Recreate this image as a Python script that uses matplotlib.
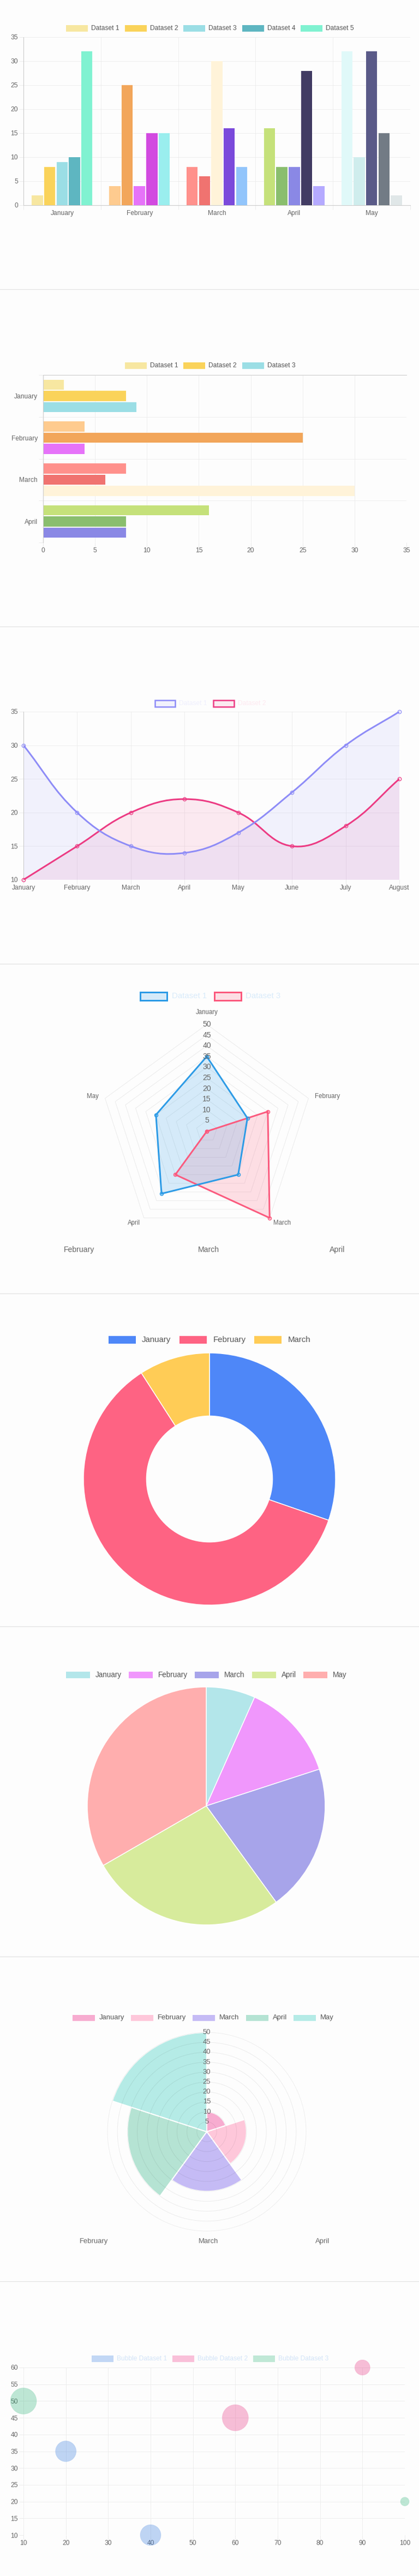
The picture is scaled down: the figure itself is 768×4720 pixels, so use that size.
import matplotlib
matplotlib.use("Agg")
import matplotlib.pyplot as plt
import numpy as np
from matplotlib.patches import Rectangle, PathPatch
from matplotlib.path import Path

W, H, DPI = 768, 4720, 72

plt.rcParams["font.family"] = ["Liberation Sans", "DejaVu Sans"]

GRID = "#ebebeb"
ZERO = "#c9c9c9"
TICK = "#666666"
LEG = "#555555"

# ---------------- data ----------------
months = ["January", "February", "March", "April", "May", "June", "July", "August"]

bar_labels = ["Dataset 1", "Dataset 2", "Dataset 3", "Dataset 4", "Dataset 5"]
bar_ds1 = [2, 4, 8, 16, 32]
bar_ds2 = [8, 25, 6, 8, 10]
bar_ds3 = [9, 4, 30, 8, 32]
bar_ds4 = [10, 15, 16, 28, 15]
bar_ds5 = [32, 15, 8, 4, 2]
# every bar has its own colour (one per month)
bar_col1 = ["#f7e7a1", "#fecb8f", "#ff918c", "#c5e17a", "#e0f9f9"]
bar_col2 = ["#fad35a", "#f2a65a", "#f07370", "#8abe6e", "#cfeded"]
bar_col3 = ["#9bdee5", "#e673f9", "#fff3d9", "#8a88e5", "#5a5a88"]
bar_col4 = ["#5eb6c1", "#d24ae0", "#7b4adb", "#413b63", "#727b85"]
bar_col5 = ["#80f2d1", "#9aeeee", "#92c5fb", "#b5aaff", "#e0e7e8"]

line_ds1 = [30, 20, 15, 14, 17, 23, 30, 35]
line_ds2 = [10, 15, 20, 22, 20, 15, 18, 25]

radar_labels = ["January", "February", "March", "April", "May"]
radar_ds1 = [35, 20, 25, 36, 25]
radar_ds3 = [0, 30, 50, 25, 0]
extra_labels = ["February", "March", "April"]

doughnut_labels = ["January", "February", "March"]
doughnut_vals = [10, 20, 3]
doughnut_cols = ["#4e87f8", "#fe6383", "#ffcc56"]

pie_labels = ["January", "February", "March", "April", "May"]
pie_vals = [2, 4, 6, 8, 10]
pie_cols = ["#b3e6ea", "#f097fc", "#a7a4ea", "#d7eb9c", "#ffaeae"]

polar_labels = ["January", "February", "March", "April", "May"]
polar_vals = [10, 20, 30, 40, 50]
polar_cols = ["#f7acd0", "#fec7da", "#c5bbf5", "#b5e3d3", "#b5ebe6"]

bub_labels = ["Bubble Dataset 1", "Bubble Dataset 2", "Bubble Dataset 3"]
bub1_x, bub1_y, bub1_r = [20, 40], [35, 10], [19, 19]
bub2_x, bub2_y, bub2_r = [60, 90], [45, 60], [24, 14]
bub3_x, bub3_y, bub3_r = [10, 100], [50, 20], [24, 8]

BLUE_L, BLUE_LF = "#8e8cf7", (140 / 255, 140 / 255, 250 / 255, 0.1)
PINK_L, PINK_LF = "#ec3b83", (236 / 255, 59 / 255, 131 / 255, 0.1)
BLUE_R, BLUE_RF = "#2d9be6", (54 / 255, 162 / 255, 235 / 255, 0.2)
RED_R, RED_RF = "#fb5a7e", (255 / 255, 99 / 255, 132 / 255, 0.2)
BUB_COLS = [(45 / 255, 118 / 255, 222 / 255, 0.3),
            (232 / 255, 42 / 255, 125 / 255, 0.3),
            (42 / 255, 178 / 255, 118 / 255, 0.3)]


fig = plt.figure(figsize=(W / DPI, H / DPI), dpi=DPI, facecolor="#fdfdfd")

ov = fig.add_axes([0, 0, 1, 1], zorder=10)
ov.set_xlim(0, W)
ov.set_ylim(H, 0)
ov.axis("off")


def add_ax(x0, y0, x1, y1, **kw):
    return fig.add_axes([x0 / W, 1 - y1 / H, (x1 - x0) / W, (y1 - y0) / H], **kw)


def base_style(ax):
    ax.set_facecolor("none")
    for s in ax.spines.values():
        s.set_visible(False)
    ax.tick_params(which="both", color=GRID, labelcolor=TICK, labelsize=12,
                   length=8, width=1, pad=2)
    ax.set_axisbelow(True)


def show_spine(ax, name):
    ax.spines[name].set_visible(True)
    ax.spines[name].set_color(ZERO)
    ax.spines[name].set_linewidth(1)


def legend_row(y, items, cx=385, box=(40, 12), fs=12, gap=6, pad=10, lw=0):
    """items: (label, facecolor, edgecolor, textcolor)"""
    r = fig.canvas.get_renderer()
    texts, widths = [], []
    for lab, fc, ec, tc in items:
        t = ov.text(0, y, lab, fontsize=fs, color=tc, ha="left", va="center")
        texts.append(t)
        widths.append(t.get_window_extent(r).width)
    total = sum(box[0] + gap + w for w in widths) + pad * (len(items) - 1)
    x = cx - total / 2
    for t, w, (lab, fc, ec, tc) in zip(texts, widths, items):
        ov.add_patch(Rectangle((x + lw / 2, y - box[1] / 2), box[0] - lw, box[1],
                               facecolor=fc, edgecolor=ec if ec else "none", linewidth=lw))
        t.set_x(x + box[0] + gap)
        x += box[0] + gap + w + pad


def spline(xs, ys, sx, sy, ylim, t=0.4):
    # Chart.js style bezier through the data points
    n = len(xs)
    cps = []
    for i in range(n):
        x0, y0 = (xs[i - 1], ys[i - 1]) if i > 0 else (xs[i], ys[i])
        x1, y1 = xs[i], ys[i]
        x2, y2 = (xs[i + 1], ys[i + 1]) if i < n - 1 else (xs[i], ys[i])
        d01 = np.hypot((x1 - x0) * sx, (y1 - y0) * sy)
        d12 = np.hypot((x2 - x1) * sx, (y2 - y1) * sy)
        tot = d01 + d12
        s01 = d01 / tot if tot else 0
        s12 = d12 / tot if tot else 0
        fa, fb = t * s01, t * s12
        cp_prev = (x1 - fa * (x2 - x0), np.clip(y1 - fa * (y2 - y0), *ylim))
        cp_next = (x1 + fb * (x2 - x0), np.clip(y1 + fb * (y2 - y0), *ylim))
        cps.append((cp_prev, cp_next))
    verts = [(xs[0], ys[0])]
    codes = [Path.MOVETO]
    for i in range(n - 1):
        verts += [cps[i][1], cps[i + 1][0], (xs[i + 1], ys[i + 1])]
        codes += [Path.CURVE4] * 3
    return verts, codes


# ---------------- 1: grouped bar ----------------
bar_sets = [bar_ds1, bar_ds2, bar_ds3, bar_ds4, bar_ds5]
bar_cols = [bar_col1, bar_col2, bar_col3, bar_col4, bar_col5]
bar_months = months[:5]

ax1 = add_ax(43, 68, 752, 376)
base_style(ax1)
xc = np.arange(len(bar_months))
slot = 0.8 / len(bar_sets)
for k, (vals, cols) in enumerate(zip(bar_sets, bar_cols)):
    ax1.bar(xc - 0.4 + slot * (k + 0.5), vals, width=slot * 0.9, color=cols, zorder=2)
ax1.set_xlim(-0.5, len(bar_months) - 0.5)
ax1.set_ylim(0, 35)
ax1.set_yticks(range(0, 36, 5))
ax1.set_xticks(xc)
ax1.set_xticklabels(bar_months)
ax1.set_xticks(np.arange(-0.5, len(bar_months), 1), minor=True)
ax1.tick_params(axis="x", which="major", length=0, pad=9)
ax1.grid(axis="y", which="major", color=GRID)
ax1.grid(axis="x", which="minor", color=GRID)
show_spine(ax1, "left")
show_spine(ax1, "bottom")
legend_row(52, [(bar_labels[k], bar_cols[k][0], None, LEG) for k in range(5)])

# ---------------- 2: horizontal bar ----------------
hb_months = months[:4]
hb_sets = [s[:4] for s in bar_sets[:3]]
hb_cols = [c[:4] for c in bar_cols[:3]]

ax2 = add_ax(79, 687, 745, 994)
base_style(ax2)
yc = np.arange(len(hb_months))
slot = 0.8 / len(hb_sets)
for k, (vals, cols) in enumerate(zip(hb_sets, hb_cols)):
    ax2.barh(yc - 0.4 + slot * (k + 0.5), vals, height=slot * 0.9, color=cols, zorder=2)
ax2.set_ylim(len(hb_months) - 0.5, -0.5)
ax2.set_xlim(0, 35)
ax2.set_xticks(range(0, 36, 5))
ax2.set_yticks(yc)
ax2.set_yticklabels(hb_months)
ax2.set_yticks(np.arange(-0.5, len(hb_months), 1), minor=True)
ax2.tick_params(axis="y", which="major", length=0, pad=10)
ax2.tick_params(axis="x", pad=1)
ax2.grid(axis="x", which="major", color=GRID)
ax2.grid(axis="y", which="minor", color=GRID)
show_spine(ax2, "left")
show_spine(ax2, "top")
legend_row(670, [(bar_labels[k], bar_cols[k][0], None, LEG) for k in range(3)])

# ---------------- 3: smooth line ----------------
ax3 = add_ax(43, 1304, 732, 1612)
base_style(ax3)
xl = np.arange(len(months))
ax3.set_xlim(0, len(months) - 1)
ax3.set_ylim(10, 35)
sx = (732 - 43) / (len(months) - 1)
sy = (1612 - 1304) / 25
series = [(line_ds2, PINK_L, PINK_LF), (line_ds1, BLUE_L, BLUE_LF)]
for vals, lc, fc in series:
    v, c = spline(xl, vals, sx, sy, (10, 35))
    fv = v + [(xl[-1], 10), (xl[0], 10), (xl[0], vals[0])]
    fcodes = c + [Path.LINETO, Path.LINETO, Path.CLOSEPOLY]
    ax3.add_patch(PathPatch(Path(fv, fcodes), facecolor=fc, edgecolor="none", zorder=1))
for vals, lc, fc in series:
    v, c = spline(xl, vals, sx, sy, (10, 35))
    ax3.add_patch(PathPatch(Path(v, c), facecolor="none", edgecolor=lc, linewidth=3, zorder=3))
    ax3.scatter(xl, vals, s=42, facecolor=fc, edgecolor=lc, linewidth=1.2, zorder=4, clip_on=False)
ax3.set_xticks(xl)
ax3.set_xticklabels(months)
ax3.set_yticks(range(10, 36, 5))
ax3.tick_params(axis="x", pad=1)
ax3.grid(color=GRID)
show_spine(ax3, "left")
legend_row(1289, [("Dataset 1", BLUE_LF, BLUE_L, "#efeffd"),
                  ("Dataset 2", PINK_LF, PINK_L, "#fde9f0")], lw=2.5)

# ---------------- 4: radar ----------------
RR, rcx, rcy = 196, 379, 2073
axr = add_ax(rcx - RR, rcy - RR, rcx + RR, rcy + RR)
axr.set_xlim(-50, 50)
axr.set_ylim(-50, 50)
axr.axis("off")
ang = np.arange(len(radar_labels)) * 2 * np.pi / len(radar_labels)
ring = np.append(ang, ang[0])
for v in range(5, 55, 5):
    axr.plot(v * np.sin(ring), v * np.cos(ring), color=GRID, lw=1, zorder=1)
for vals, lc, fc in [(radar_ds3, RED_R, RED_RF), (radar_ds1, BLUE_R, BLUE_RF)]:
    vv = np.array(vals + vals[:1], dtype=float)
    axr.fill(vv * np.sin(ring), vv * np.cos(ring), color=fc, zorder=2)
    axr.plot(vv * np.sin(ring), vv * np.cos(ring), color=lc, lw=3, zorder=3)
    axr.scatter(np.array(vals) * np.sin(ang), np.array(vals) * np.cos(ang), s=36,
                facecolor=fc, edgecolor=lc, linewidth=1.5, zorder=4)
for v in range(5, 55, 5):
    axr.text(0, v, str(v), ha="center", va="center", fontsize=14, color=TICK, zorder=5)
upx = 50 / RR
for a, lab in zip(ang, radar_labels):
    s, c = np.sin(a), np.cos(a)
    off = 22 if c > 0.99 else 12
    rl = 50 + off * upx
    ha = "center" if abs(s) < 0.05 else ("left" if s > 0 else "right")
    axr.text(rl * s, rl * c, lab, ha=ha, va="center", fontsize=11.5, color=TICK, clip_on=False)
for x, lab in zip([145, 382, 618], extra_labels):
    ov.text(x, 2290, lab, ha="center", va="center", fontsize=14, color=TICK)
legend_row(1825, [("Dataset 1", BLUE_RF, BLUE_R, "#d9ebfa"),
                  ("Dataset 3", RED_RF, RED_R, "#d9ebfa")],
           box=(52, 15), fs=15, gap=7, pad=12, lw=3)

# ---------------- 5: doughnut ----------------
DR = 231
axd = add_ax(384 - DR, 2710 - DR, 384 + DR, 2710 + DR)
axd.pie(doughnut_vals, colors=doughnut_cols, startangle=90, counterclock=False,
        wedgeprops=dict(width=0.5, edgecolor="white", linewidth=1.5))
axd.set_xlim(-1, 1)
axd.set_ylim(-1, 1)
axd.axis("off")
legend_row(2455, [(l, c, None, LEG) for l, c in zip(doughnut_labels, doughnut_cols)],
           cx=384, box=(50, 14), fs=15, gap=11, pad=16)

# ---------------- 6: pie ----------------
PR = 218
axpie = add_ax(378 - PR, 3309 - PR, 378 + PR, 3309 + PR)
axpie.pie(pie_vals, colors=pie_cols, startangle=90, counterclock=False,
          wedgeprops=dict(edgecolor="white", linewidth=1.5))
axpie.set_xlim(-1, 1)
axpie.set_ylim(-1, 1)
axpie.axis("off")
legend_row(3069, [(l, c, None, LEG) for l, c in zip(pie_labels, pie_cols)],
           cx=378, box=(44, 12), fs=13.5, gap=10, pad=13)

# ---------------- 7: polar area ----------------
QR, qcx, qcy = 182, 379, 3906
axp = add_ax(qcx - QR, qcy - QR, qcx + QR, qcy + QR, projection="polar")
axp.set_facecolor("none")
axp.set_theta_zero_location("N")
axp.set_theta_direction(-1)
seg = 2 * np.pi / len(polar_vals)
th = np.arange(len(polar_vals)) * seg + seg / 2
axp.bar(th, polar_vals, width=seg, color=polar_cols, edgecolor="white", linewidth=2, zorder=1)
axp.set_ylim(0, 50)
axp.set_yticks([])
axp.set_xticks([])
axp.grid(False)
circ = np.linspace(0, 2 * np.pi, 361)
for v in range(5, 50, 5):
    axp.plot(circ, np.full_like(circ, v), color=(0, 0, 0, 0.07), lw=1, zorder=2)
axp.spines["polar"].set_color(GRID)
for v in range(5, 55, 5):
    axp.text(0, v, str(v), ha="center", va="center", fontsize=13, color=TICK, zorder=5)
for x, lab in zip([172, 382, 591], extra_labels):
    ov.text(x, 4107, lab, ha="center", va="center", fontsize=13, color=TICK)
legend_row(3697, [(l, c, None, LEG) for l, c in zip(polar_labels, polar_cols)],
           cx=372, box=(41, 11), fs=13, gap=8, pad=12)

# ---------------- 8: bubble ----------------
axb = add_ax(43, 4338, 742, 4645)
base_style(axb)
axb.set_xlim(10, 100)
axb.set_ylim(10, 60)
axb.set_xticks(range(10, 101, 10))
axb.set_yticks(range(10, 61, 5))
axb.tick_params(axis="x", pad=1)
axb.grid(color=GRID)
bubbles = [(bub1_x, bub1_y, bub1_r), (bub2_x, bub2_y, bub2_r), (bub3_x, bub3_y, bub3_r)]
for (bx, by, br), col in zip(bubbles, BUB_COLS):
    edge = col[:3] + (0.12,)
    axb.scatter(bx, by, s=(2 * np.array(br)) ** 2, facecolor=col, edgecolor=edge,
                linewidth=1, zorder=3, clip_on=False)
bub_leg = ["#c2d7f5", "#f9c0d9", "#c0e8d6"]
legend_row(4322, [(l, c, None, "#d3e4f8") for l, c in zip(bub_labels, bub_leg)])

# ---------------- separators ----------------
for y in [530, 1148, 1766, 2370, 2980, 3585, 4180]:
    ov.plot([0, W], [y, y], color="#e3e3e3", lw=1.3)

fig.savefig("out.png", dpi=DPI, facecolor=fig.get_facecolor())
